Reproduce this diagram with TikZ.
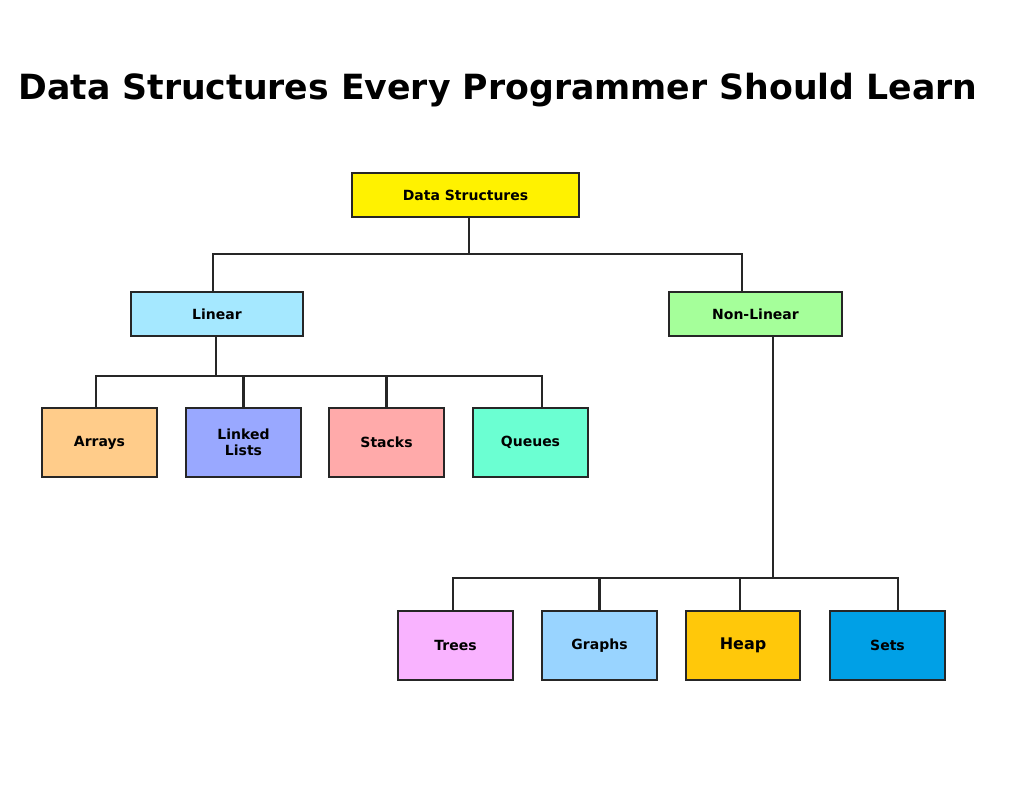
\documentclass[tikz,border=0pt]{standalone}
\usepackage{fontspec}
\setmainfont{DejaVu Sans}
\begin{document}
\begin{tikzpicture}[x=1pt,y=-1pt,
  box/.style={draw=black!85,line width=2.2pt,minimum width=#1,inner sep=0pt,align=center,font=\bfseries\fontsize{14}{16}\selectfont},
  wire/.style={draw=black!85,line width=2.2pt}]
\useasboundingbox (0,0) rectangle (1024,791);
\node[anchor=base west,font=\bfseries\fontsize{34.7}{36}\selectfont,inner sep=0pt] (title) at (18,100) {Data Structures Every Programmer Should Learn};
\node[box=227pt,minimum height=44pt,fill={rgb,255:red,255;green,242;blue,0}] (ds) at (465.5,195) {Data Structures};
\node[box=172pt,minimum height=44pt,fill={rgb,255:red,165;green,232;blue,255}] (lin) at (217,314) {Linear};
\node[box=173pt,minimum height=44pt,fill={rgb,255:red,165;green,255;blue,154}] (nl) at (755.5,314) {Non-Linear};
\foreach \n/\t/\x/\c in {arr/Arrays/99.5/{255,204,138},ll/{Linked\\Lists}/243.5/{153,168,255},st/Stacks/386.5/{255,170,170},qu/Queues/530.5/{107,255,210}}{
  \definecolor{tmp}{RGB}{\c}
  \node[box=115pt,minimum height=69pt,fill=tmp] (\n) at (\x,442.5) {\t};
}
\foreach \n/\t/\x/\c in {tr/Trees/455.5/{249,179,255},gr/Graphs/599.5/{153,212,255},sets/Sets/887.5/{0,160,230}}{
  \definecolor{tmp}{RGB}{\c}
  \node[box=115pt,minimum height=69pt,fill=tmp] (\n) at (\x,645.5) {\t};
}
\node[box=114pt,minimum height=69pt,fill={rgb,255:red,255;green,200;blue,10},font=\bfseries\fontsize{16}{18}\selectfont] (hp) at (743,645.5) {Heap};
\draw[wire] (469,217) -- (469,254) coordinate (j1);
\draw[wire] (213,292) |- (j1) -| (742,292);
\draw[wire] (216,336) -- (216,376) coordinate (j2);
\draw[wire] (96,408) |- (j2) -| (542,408);
\draw[wire] (ll.north) -- (ll.north|-j2);
\draw[wire] (st.north) -- (st.north|-j2);
\draw[wire] (773,336) -- (773,578) coordinate (j3);
\draw[wire] (453,611) |- (j3) -| (898,611);
\draw[wire] (gr.north) -- (gr.north|-j3);
\draw[wire] (740,611) -- (740,578);
\end{tikzpicture}
\end{document}
